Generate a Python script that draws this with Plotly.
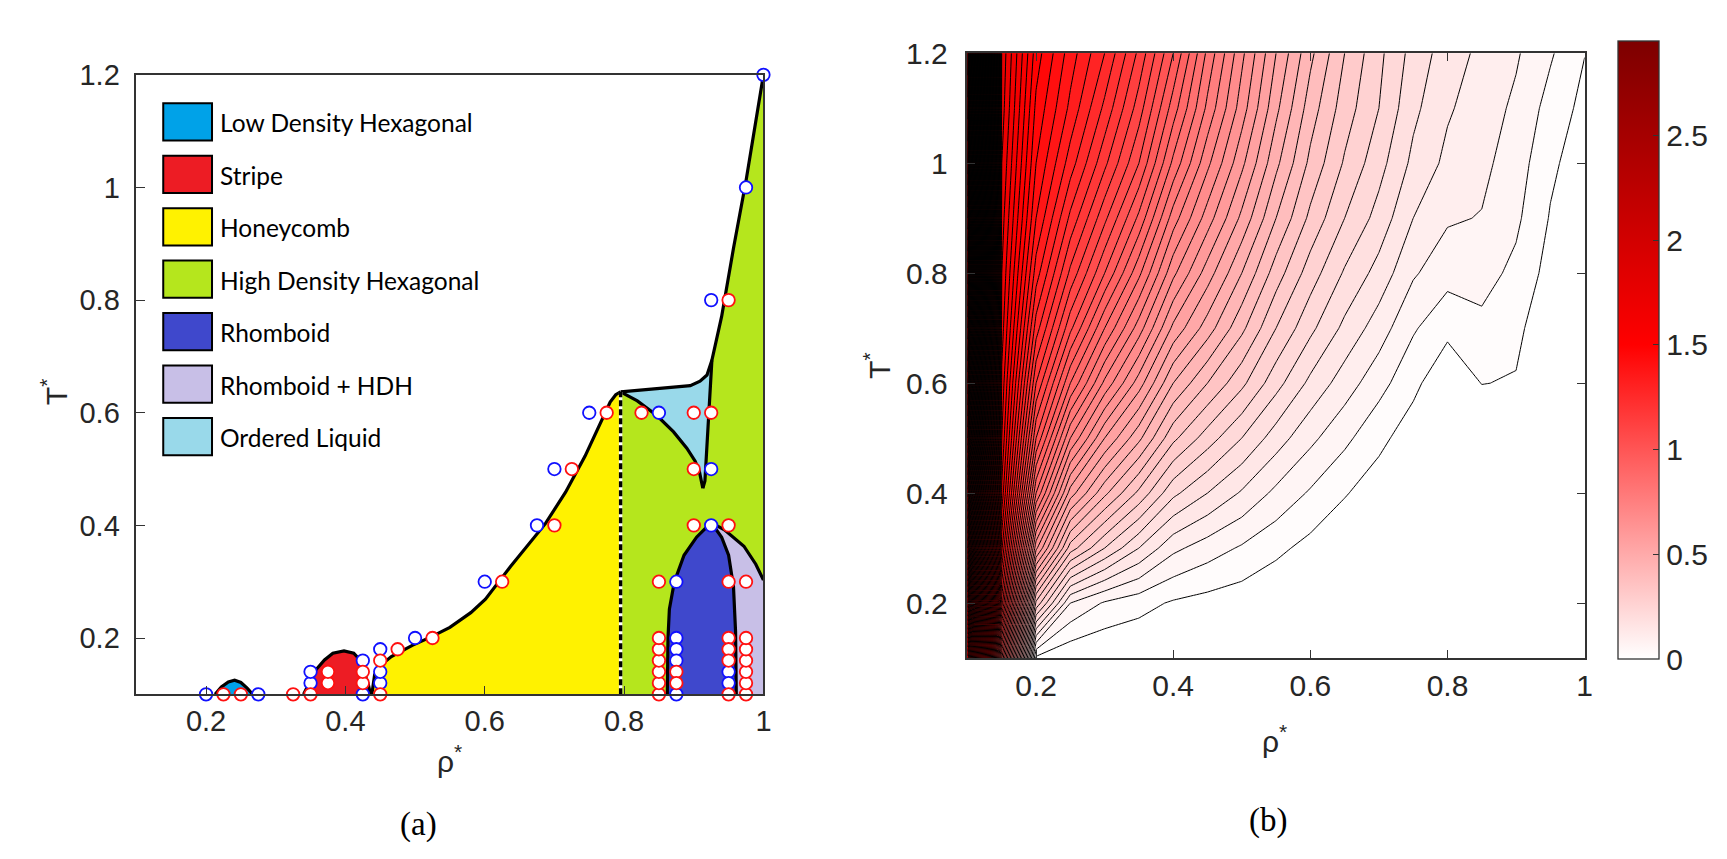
import plotly.graph_objects as go

# ================= panel (a): phase diagram data =================
phase_names = ["Low Density Hexagonal", "Stripe", "Honeycomb", "High Density Hexagonal",
               "Rhomboid", "Rhomboid + HDH", "Ordered Liquid"]
phase_colors = ["#00A2E8", "#ED1C24", "#FFF200", "#B5E61D", "#3F48CC", "#C8BFE7", "#99D9EA"]

ldh_rho = [0.213, 0.222, 0.232, 0.241, 0.250, 0.259, 0.267]
ldh_T = [0.100, 0.113, 0.122, 0.125, 0.121, 0.111, 0.100]

stripe_rho = [0.340, 0.349, 0.358, 0.370, 0.382, 0.398, 0.412, 0.421, 0.427, 0.433, 0.436]
stripe_T = [0.100, 0.123, 0.144, 0.161, 0.173, 0.177, 0.173, 0.161, 0.141, 0.117, 0.100]

honey_rho = [0.438, 0.442, 0.451, 0.466, 0.496, 0.523, 0.550, 0.580, 0.601, 0.637, 0.687,
             0.716, 0.744, 0.765, 0.780, 0.788, 0.795]
honey_T = [0.100, 0.135, 0.152, 0.167, 0.187, 0.202, 0.219, 0.245, 0.269, 0.327, 0.403,
           0.459, 0.523, 0.579, 0.619, 0.632, 0.637]

ol_top_rho = [0.795, 0.847, 0.895, 0.909, 0.919, 0.926]
ol_top_T = [0.637, 0.643, 0.648, 0.656, 0.667, 0.693]
hdh_edge_rho = [0.926, 0.940, 0.957, 0.975, 1.000]
hdh_edge_T = [0.693, 0.771, 0.892, 1.012, 1.200]
ol_left_rho = [0.795, 0.819, 0.847, 0.871, 0.890, 0.902, 0.908, 0.911, 0.913]
ol_left_T = [0.637, 0.621, 0.595, 0.566, 0.537, 0.514, 0.496, 0.479, 0.466]
ol_right_rho = [0.913, 0.916, 0.926]
ol_right_T = [0.466, 0.479, 0.693]

rh_left_rho = [0.862, 0.863, 0.865, 0.872, 0.886, 0.904, 0.925]
rh_left_T = [0.100, 0.200, 0.251, 0.299, 0.347, 0.379, 0.405]
rh_right_rho = [0.925, 0.940, 0.950, 0.957, 0.960, 0.961]
rh_right_T = [0.405, 0.379, 0.347, 0.291, 0.211, 0.100]
rhdh_rho = [0.925, 0.944, 0.972, 0.989, 1.000]
rhdh_T = [0.405, 0.392, 0.363, 0.331, 0.303]

blue_rho = [0.200, 0.275, 0.350, 0.350, 0.425, 0.425, 0.450, 0.450, 0.450, 0.500, 0.600,
            0.675, 0.700, 0.750, 0.850, 0.925, 0.925, 0.925, 0.975, 1.000, 0.875, 0.875,
            0.875, 0.875, 0.875, 0.950, 0.950]
blue_T = [0.10, 0.10, 0.12, 0.14, 0.10, 0.16, 0.12, 0.14, 0.18, 0.20, 0.30,
          0.40, 0.50, 0.60, 0.60, 0.50, 0.40, 0.80, 1.00, 1.20, 0.30, 0.20,
          0.18, 0.16, 0.10, 0.14, 0.12]
red_rho = [0.225, 0.250, 0.325, 0.350, 0.375, 0.375, 0.425, 0.425, 0.450, 0.450, 0.475,
           0.525, 0.625, 0.700, 0.725, 0.775, 0.825, 0.900, 0.925, 0.900, 0.900, 0.950,
           0.950, 0.850, 0.950, 0.975,
           0.850, 0.850, 0.850, 0.850, 0.850, 0.850, 0.875, 0.875,
           0.950, 0.950, 0.950, 0.950,
           0.975, 0.975, 0.975, 0.975, 0.975, 0.975]
red_T = [0.10, 0.10, 0.10, 0.10, 0.12, 0.14, 0.12, 0.14, 0.10, 0.16, 0.18,
         0.20, 0.30, 0.40, 0.50, 0.60, 0.60, 0.60, 0.60, 0.50, 0.40, 0.40,
         0.80, 0.30, 0.30, 0.30,
         0.10, 0.12, 0.14, 0.16, 0.18, 0.20, 0.14, 0.12,
         0.20, 0.18, 0.16, 0.10,
         0.10, 0.12, 0.14, 0.16, 0.18, 0.20]

a_xticks = [0.2, 0.4, 0.6, 0.8, 1.0]
a_xticktext = ["0.2", "0.4", "0.6", "0.8", "1"]
a_yticks = [0.2, 0.4, 0.6, 0.8, 1.0, 1.2]
a_yticktext = ["0.2", "0.4", "0.6", "0.8", "1", "1.2"]
a_xrange = [0.1, 1.0]
a_yrange = [0.1, 1.2]

# ================= panel (b): contour data =================
rho_grid = [0.10, 0.15, 0.20, 0.25, 0.30, 0.35, 0.40, 0.45, 0.50, 0.55,
            0.60, 0.65, 0.70, 0.75, 0.80, 0.85, 0.90, 0.95, 1.00]
T_grid = [0.1, 0.2, 0.3, 0.4, 0.5, 0.6, 0.7, 0.8, 0.9, 1.0, 1.1, 1.2]
z_grid = [
    [2.30, 1.00, 0.030, 0.005, 0.0, 0.0, 0.0, 0.0, 0.0, 0.0, 0.0, 0.0, 0.0, 0.0, 0.0, 0.0, 0.0, 0.0, 0.0],
    [2.80, 1.30, 0.35, 0.12, 0.075, 0.055, 0.035, 0.025, 0.017, 0.005, 0.003, 0.0, 0.0, 0.0, 0.0, 0.0, 0.0, 0.0, 0.0],
    [3.20, 1.45, 0.65, 0.38, 0.28, 0.20, 0.13, 0.10, 0.075, 0.05, 0.027, 0.01, 0.0, 0.0, 0.0, 0.0, 0.0, 0.0, 0.0],
    [3.50, 1.55, 0.88, 0.58, 0.45, 0.35, 0.25, 0.20, 0.155, 0.11, 0.075, 0.043, 0.02, 0.005, 0.0, 0.0, 0.0, 0.0, 0.0],
    [3.80, 1.60, 1.04, 0.76, 0.60, 0.49, 0.37, 0.30, 0.24, 0.18, 0.13, 0.09, 0.05, 0.02, 0.0, 0.0, 0.0, 0.0, 0.0],
    [4.00, 1.63, 1.16, 0.92, 0.75, 0.62, 0.48, 0.40, 0.33, 0.255, 0.19, 0.14, 0.095, 0.05, 0.01, 0.041, 0.037, 0.0, 0.0],
    [4.20, 1.66, 1.26, 1.05, 0.88, 0.74, 0.59, 0.50, 0.41, 0.32, 0.25, 0.19, 0.14, 0.085, 0.05, 0.07, 0.05, 0.01, 0.0],
    [4.40, 1.68, 1.34, 1.15, 1.00, 0.85, 0.69, 0.58, 0.48, 0.38, 0.30, 0.235, 0.185, 0.125, 0.095, 0.095, 0.07, 0.025, 0.005],
    [4.60, 1.70, 1.40, 1.23, 1.09, 0.95, 0.78, 0.66, 0.55, 0.44, 0.35, 0.28, 0.225, 0.16, 0.125, 0.118, 0.088, 0.037, 0.01],
    [4.80, 1.72, 1.44, 1.30, 1.17, 1.04, 0.87, 0.73, 0.61, 0.49, 0.39, 0.315, 0.255, 0.19, 0.15, 0.13, 0.10, 0.048, 0.018],
    [4.90, 1.74, 1.47, 1.35, 1.23, 1.10, 0.94, 0.79, 0.66, 0.53, 0.42, 0.34, 0.28, 0.21, 0.165, 0.14, 0.112, 0.065, 0.028],
    [5.00, 1.75, 1.50, 1.38, 1.28, 1.15, 1.00, 0.83, 0.69, 0.56, 0.45, 0.36, 0.29, 0.225, 0.18, 0.15, 0.125, 0.085, 0.041],
]
b_xticks = [0.2, 0.4, 0.6, 0.8, 1.0]
b_xticktext = ["0.2", "0.4", "0.6", "0.8", "1"]
b_yticks = [0.2, 0.4, 0.6, 0.8, 1.0, 1.2]
b_yticktext = ["0.2", "0.4", "0.6", "0.8", "1", "1.2"]
cb_ticks = [0, 0.5, 1, 1.5, 2, 2.5]
cb_ticktext = ["0", "0.5", "1", "1.5", "2", "2.5"]
cb_max = 2.95
contour_step = 0.04

# ================= layout geometry (pixels) =================
W, H = 1727, 859
def px(x):
    return x / W
def py(y):
    return 1 - y / H

TICK_FONT = "Liberation Sans"
TXT = "#262626"
AXC = "#333333"

fig = go.Figure()

T0 = a_yrange[0]
RHO1 = a_xrange[1]

def poly(xs, ys, color):
    fig.add_trace(go.Scatter(x=xs, y=ys, fill="toself", fillcolor=color, mode="lines",
                             line=dict(width=0, color=color), hoverinfo="skip",
                             showlegend=False, xaxis="x", yaxis="y"))

def bline(xs, ys, width=3.2, color="black", dash=None):
    fig.add_trace(go.Scatter(x=xs, y=ys, mode="lines",
                             line=dict(width=width, color=color, dash=dash),
                             hoverinfo="skip", showlegend=False, xaxis="x", yaxis="y"))

c_ldh, c_str, c_hon, c_hdh, c_rh, c_rhdh, c_ol = phase_colors

# High density hexagonal (background of right part)
hdh_x = [honey_rho[-1], honey_rho[-1]] + ol_top_rho[1:] + hdh_edge_rho[1:] + [RHO1]
hdh_y = [T0, honey_T[-1]] + ol_top_T[1:] + hdh_edge_T[1:] + [T0]
poly(hdh_x, hdh_y, c_hdh)
# Honeycomb
poly(honey_rho + [honey_rho[-1]], honey_T + [T0], c_hon)
# Ordered liquid
ol_x = ol_top_rho + ol_right_rho[::-1][1:] + ol_left_rho[::-1][1:]
ol_y = ol_top_T + ol_right_T[::-1][1:] + ol_left_T[::-1][1:]
poly(ol_x, ol_y, c_ol)
# Rhomboid
poly(rh_left_rho + rh_right_rho[1:], rh_left_T + rh_right_T[1:], c_rh)
# Rhomboid + HDH
poly(rhdh_rho + [RHO1] + rh_right_rho[::-1][:-1], rhdh_T + [T0] + rh_right_T[::-1][:-1], c_rhdh)
# Low density hexagonal & stripe
poly(ldh_rho, ldh_T, c_ldh)
poly(stripe_rho, stripe_T, c_str)

# boundaries
for xs, ys in [(ldh_rho, ldh_T), (stripe_rho, stripe_T), (honey_rho, honey_T),
               (ol_top_rho + hdh_edge_rho[1:], ol_top_T + hdh_edge_T[1:]),
               (ol_left_rho, ol_left_T), (ol_right_rho, ol_right_T),
               (rh_left_rho + rh_right_rho[1:], rh_left_T + rh_right_T[1:]),
               (rhdh_rho, rhdh_T)]:
    bline(xs, ys)
# dashed honeycomb / HDH boundary
bline([honey_rho[-1], honey_rho[-1]], [T0, honey_T[-1]], width=3.4, color="white")
bline([honey_rho[-1], honey_rho[-1]], [T0, honey_T[-1]], width=3.4, color="black", dash="6px,3px")

# simulation points
for xs, ys, col in [(blue_rho, blue_T, "#1010FF"), (red_rho, red_T, "#FF1010")]:
    fig.add_trace(go.Scatter(x=xs, y=ys, mode="markers", cliponaxis=False,
                             marker=dict(symbol="circle", size=12.5, color="white",
                                         line=dict(color=col, width=1.8)),
                             hoverinfo="skip", showlegend=False, xaxis="x", yaxis="y"))

# ================= panel (b) =================
zmax_data = max(max(r) for r in z_grid)
cscale = [[0.0, "rgb(255,255,255)"], [1.5 / cb_max, "rgb(255,0,0)"], [1.0, "rgb(125,0,0)"]]
fig.add_trace(go.Contour(
    x=rho_grid, y=T_grid, z=z_grid, xaxis="x2", yaxis="y2",
    autocontour=False,
    contours=dict(start=contour_step, end=zmax_data + contour_step, size=contour_step, coloring="fill"),
    line=dict(color="black", width=1.0, smoothing=0),
    colorscale=cscale, zmin=0, zmax=cb_max, showscale=False, hoverinfo="skip"))

fig.add_trace(go.Scatter(
    x=[None], y=[None], mode="markers", xaxis="x2", yaxis="y2", showlegend=False,
    marker=dict(color=[0], cmin=0, cmax=cb_max, colorscale=cscale, showscale=True,
                colorbar=dict(x=px(1626), xanchor="left", xpad=0,
                              y=py(655), yanchor="bottom", ypad=0,
                              len=618, lenmode="pixels", thickness=41, thicknessmode="pixels",
                              outlinewidth=1.3, outlinecolor=AXC,
                              tickvals=cb_ticks, ticktext=cb_ticktext,
                              ticks="inside", ticklen=6, tickcolor=AXC,
                              tickfont=dict(family=TICK_FONT, size=30, color=TXT)))))

# ================= legend (manual) =================
shapes = []
annotations = []
for i, (name, col) in enumerate(zip(phase_names, phase_colors)):
    top = 88 + i * 53.5
    shapes.append(dict(type="rect", xref="paper", yref="paper",
                       x0=px(164), x1=px(213), y0=py(top + 38), y1=py(top),
                       fillcolor=col, line=dict(color="black", width=2)))
    annotations.append(dict(xref="paper", yref="paper", x=px(219), y=py(top + 20),
                            xanchor="left", yanchor="middle", text=name, showarrow=False,
                            font=dict(family="Lato", size=24.5, color="black")))

# axis titles and captions
title_font = dict(family=TICK_FONT, size=30, color=TXT)
annotations += [
    dict(xref="paper", yref="paper", x=px(452), y=py(757), text="ρ<sup>*</sup>",
         showarrow=False, font=title_font, xanchor="center", yanchor="middle"),
    dict(xref="paper", yref="paper", x=px(55), y=py(382), text="T<sup>*</sup>", textangle=-90,
         showarrow=False, font=title_font, xanchor="center", yanchor="middle"),
    dict(xref="paper", yref="paper", x=px(1280), y=py(737), text="ρ<sup>*</sup>",
         showarrow=False, font=title_font, xanchor="center", yanchor="middle"),
    dict(xref="paper", yref="paper", x=px(881), y=py(355), text="T<sup>*</sup>", textangle=-90,
         showarrow=False, font=title_font, xanchor="center", yanchor="middle"),
    dict(xref="paper", yref="paper", x=px(420), y=py(824), text="(a)",
         showarrow=False, font=dict(family="Liberation Serif", size=33, color="black"),
         xanchor="center", yanchor="middle"),
    dict(xref="paper", yref="paper", x=px(1274), y=py(820), text="(b)",
         showarrow=False, font=dict(family="Liberation Serif", size=33, color="black"),
         xanchor="center", yanchor="middle"),
]

common_axis = dict(showgrid=False, zeroline=False, showline=True, linecolor=AXC, linewidth=1.5,
                   ticks="inside", tickcolor=AXC)

fig.update_layout(
    width=W, height=H, margin=dict(l=0, r=0, t=0, b=0),
    paper_bgcolor="white", plot_bgcolor="white", showlegend=False,
    xaxis=dict(domain=[px(137), px(767)], range=a_xrange, anchor="y", mirror=True,
               tickvals=a_xticks, ticktext=a_xticktext, ticklen=9,
               tickfont=dict(family=TICK_FONT, size=29, color=TXT), **common_axis),
    yaxis=dict(domain=[py(691), py(59)], range=a_yrange, anchor="x", mirror=True,
               tickvals=a_yticks, ticktext=a_yticktext, ticklen=9, ticklabelstandoff=9,
               tickfont=dict(family=TICK_FONT, size=29, color=TXT), **common_axis),
    xaxis2=dict(domain=[px(972), px(1592)], range=[rho_grid[0], rho_grid[-1]], anchor="y2",
                mirror="ticks", tickvals=b_xticks, ticktext=b_xticktext, ticklen=8,
                tickfont=dict(family=TICK_FONT, size=30, color=TXT), **common_axis),
    yaxis2=dict(domain=[py(654), py(37)], range=[T_grid[0], T_grid[-1]], anchor="x2",
                mirror="ticks", tickvals=b_yticks, ticktext=b_yticktext, ticklen=8,
                ticklabelstandoff=12,
                tickfont=dict(family=TICK_FONT, size=30, color=TXT), **common_axis),
    shapes=shapes, annotations=annotations,
)

fig.write_html("out.html")
